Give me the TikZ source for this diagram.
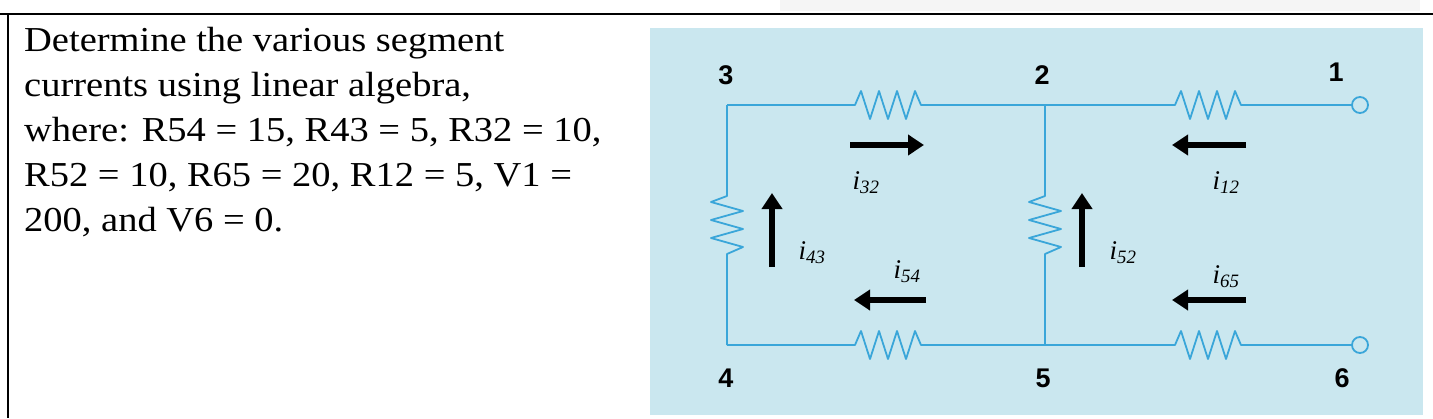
\documentclass[tikz,border=0pt]{standalone}
\usepackage{fontspec}
\setmainfont{Liberation Serif}
\setsansfont{Liberation Sans}
\usetikzlibrary{arrows.meta}
\definecolor{bg}{HTML}{CAE7EF}
\definecolor{wire}{HTML}{3AA6D9}
\begin{document}
\begin{tikzpicture}[x=1pt,y=-1pt,
  wirestyle/.style={wire,line width=1.8pt,line join=round},
  curarrow/.style={line width=6pt,-{Triangle[length=16pt,width=20pt]}},
  num/.style={font=\sffamily\bfseries\fontsize{27}{27}\selectfont},
  lab/.style={font=\itshape\fontsize{27}{27}\selectfont}]
\useasboundingbox (0,0) rectangle (1433,418);
\fill[gray!8] (780,0) rectangle (1420,11);
\draw[line width=2.5pt] (0,14) -- (1433,14);
\draw[line width=1.5pt] (8,14) -- (8,418);
\fill[bg] (650,28) rectangle (1423,415);
\node[anchor=north west,align=left,inner sep=0pt,font=\addfontfeature{FakeStretch=1.1}\fontsize{35}{45}\selectfont] (txt) at (24,27)
 {Determine the various segment\\currents using linear algebra,\\where: R54 = 15, R43 = 5, R32 = 10,\\R52 = 10, R65 = 20, R12 = 5, V1 =\\200, and V6 = 0.};
% nodes
\coordinate (n3) at (727,105); \coordinate (n2) at (1045,105); \coordinate (n1) at (1352,105);
\coordinate (n4) at (727,345); \coordinate (n5) at (1045,345); \coordinate (n6) at (1352,345);
\def\hres#1#2{-- (#1-33,#2) -- (#1-27,#2-14) -- (#1-18,#2+14) -- (#1-9,#2-14) -- (#1,#2+14) -- (#1+9,#2-14) -- (#1+18,#2+14) -- (#1+27,#2-14) -- (#1+33,#2)}
\def\vres#1#2{-- (#1,#2-30) -- (#1-16,#2-24) -- (#1+16,#2-15) -- (#1-16,#2-6) -- (#1+16,#2+3) -- (#1-16,#2+12) -- (#1+16,#2+21) -- (#1,#2+28)}
\draw[wirestyle] (n3) \hres{888}{105} -- (n2) \hres{1208}{105} -- (n1);
\draw[wirestyle] (n4) \hres{888}{345} -- (n5) \hres{1208}{345} -- (n6);
\draw[wirestyle] (n3) \vres{727}{226} -- (n4);
\draw[wirestyle] (n2) \vres{1045}{226} -- (n5);
\draw[wirestyle,fill=bg] (n1) ++(8,0) circle (8);
\draw[wirestyle,fill=bg] (n6) ++(8,0) circle (8);
% arrows
\draw[curarrow] (850,145) -- (924,145);
\draw[curarrow] (1246,145) -- (1172,145);
\draw[curarrow] (926,300) -- (854,300);
\draw[curarrow] (1246,300) -- (1172,300);
\draw[curarrow] (772,267) -- (772,193);
\draw[curarrow] (1082,267) -- (1082,193);
% labels
\node[lab] (l32) at (866,183) {i\textsubscript{32}};
\node[lab] (l12) at (1226,183) {i\textsubscript{12}};
\node[lab] (l43) at (812,253) {i\textsubscript{43}};
\node[lab] (l52) at (1123,253) {i\textsubscript{52}};
\node[lab] (l54) at (907,272) {i\textsubscript{54}};
\node[lab] (l65) at (1226,277) {i\textsubscript{65}};
\node[num] (t3) at (726,75) {3};
\node[num] (t2) at (1042,75) {2};
\node[num] (t1) at (1336,72) {1};
\node[num] (t4) at (726,378) {4};
\node[num] (t5) at (1043,378) {5};
\node[num] (t6) at (1342,378) {6};
\end{tikzpicture}
\end{document}
